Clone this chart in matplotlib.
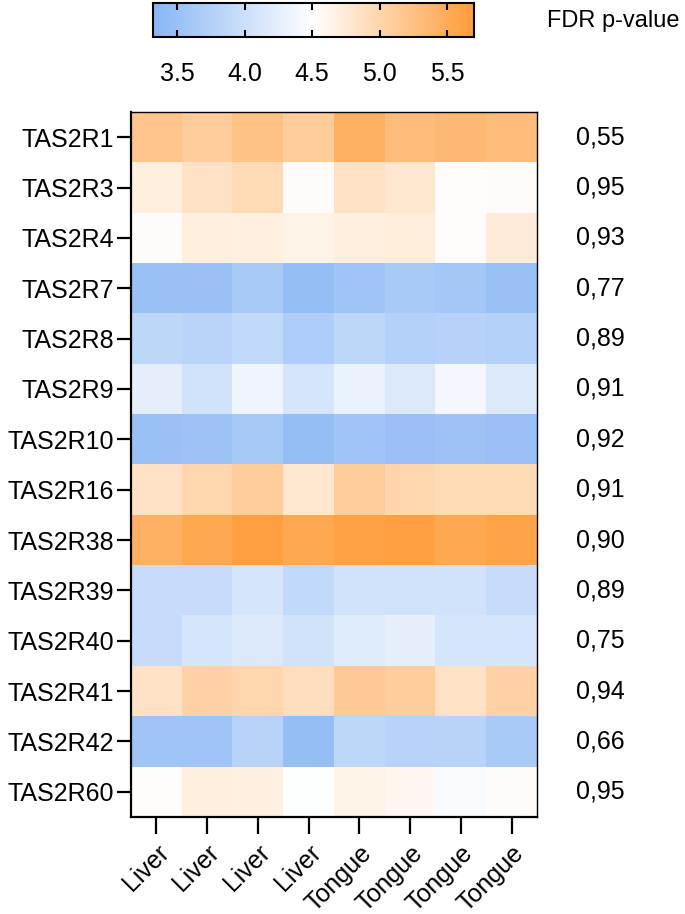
import numpy as np
import matplotlib
matplotlib.use("Agg")
import matplotlib.pyplot as plt
from matplotlib.colors import LinearSegmentedColormap, Normalize

plt.rcParams['font.family'] = ['Liberation Sans', 'DejaVu Sans']

genes = ["TAS2R1", "TAS2R3", "TAS2R4", "TAS2R7", "TAS2R8", "TAS2R9", "TAS2R10",
         "TAS2R16", "TAS2R38", "TAS2R39", "TAS2R40", "TAS2R41", "TAS2R42", "TAS2R60"]
samples = ["Liver", "Liver", "Liver", "Liver", "Tongue", "Tongue", "Tongue", "Tongue"]
fdr = ["0,55", "0,95", "0,93", "0,77", "0,89", "0,91", "0,92",
       "0,91", "0,90", "0,89", "0,75", "0,94", "0,66", "0,95"]

r_TAS2R1 = [5.20, 5.10, 5.25, 5.10, 5.45, 5.30, 5.35, 5.30]
r_TAS2R3 = [4.70, 4.85, 4.95, 4.55, 4.85, 4.80, 4.52, 4.55]
r_TAS2R4 = [4.55, 4.70, 4.68, 4.65, 4.70, 4.72, 4.52, 4.75]
r_TAS2R7 = [3.50, 3.50, 3.65, 3.45, 3.55, 3.65, 3.60, 3.50]
r_TAS2R8 = [3.85, 3.82, 3.90, 3.70, 3.85, 3.75, 3.78, 3.75]
r_TAS2R9 = [4.25, 4.05, 4.35, 4.10, 4.30, 4.15, 4.40, 4.15]
r_TAS2R10 = [3.50, 3.52, 3.62, 3.45, 3.55, 3.48, 3.52, 3.48]
r_TAS2R16 = [4.85, 5.00, 5.10, 4.80, 5.10, 5.00, 4.95, 4.95]
r_TAS2R38 = [5.45, 5.55, 5.65, 5.55, 5.62, 5.65, 5.55, 5.60]
r_TAS2R39 = [3.95, 3.95, 4.10, 3.90, 4.05, 4.05, 4.05, 3.95]
r_TAS2R40 = [3.95, 4.10, 4.15, 4.05, 4.20, 4.25, 4.10, 4.10]
r_TAS2R41 = [4.85, 5.05, 5.00, 4.90, 5.15, 5.10, 4.85, 5.05]
r_TAS2R42 = [3.55, 3.55, 3.80, 3.45, 3.85, 3.80, 3.80, 3.65]
r_TAS2R60 = [4.52, 4.70, 4.68, 4.50, 4.65, 4.60, 4.45, 4.55]

data = np.array([r_TAS2R1, r_TAS2R3, r_TAS2R4, r_TAS2R7, r_TAS2R8, r_TAS2R9, r_TAS2R10,
                 r_TAS2R16, r_TAS2R38, r_TAS2R39, r_TAS2R40, r_TAS2R41, r_TAS2R42, r_TAS2R60])

cbar_ticks = [3.5, 4.0, 4.5, 5.0, 5.5]

W, H = 685, 914
fig = plt.figure(figsize=(W / 100, H / 100), dpi=100)

cmap = LinearSegmentedColormap.from_list("bwo", ["#89B7F5", "#FFFFFF", "#FF9C3A"])
norm = Normalize(vmin=3.32, vmax=5.70)

FS = 18

# heatmap
x0, x1, y0, y1 = 131, 537, 112, 817
ax = fig.add_axes([x0 / W, 1 - y1 / H, (x1 - x0) / W, (y1 - y0) / H])
ax.imshow(data, cmap=cmap, norm=norm, aspect='auto', interpolation='nearest')
ax.set_yticks(range(len(genes)))
ax.set_yticklabels(genes, fontsize=FS)
ax.set_xticks(range(len(samples)))
ax.set_xticklabels(samples, rotation=45, ha='right', rotation_mode='anchor', fontsize=FS)
ax.tick_params(axis='y', length=10, width=1.6, pad=2)
ax.tick_params(axis='x', length=12, width=1.6, pad=5)
for s in ax.spines.values():
    s.set_linewidth(1.6)
for s in ['top', 'right']:
    ax.spines[s].set_linewidth(1.0)

for i, t in enumerate(fdr):
    ax.text(1.155, i, t, transform=ax.get_yaxis_transform(), ha='center', va='center', fontsize=FS)

# colorbar
cx0, cx1, cy0, cy1 = 153, 474, 3, 37
cax = fig.add_axes([cx0 / W, 1 - cy1 / H, (cx1 - cx0) / W, (cy1 - cy0) / H])
grad = np.linspace(norm.vmin, norm.vmax, 400)[None, :]
cax.imshow(grad, cmap=cmap, norm=norm, aspect='auto',
           extent=[norm.vmin, norm.vmax, 0, 1])
cax.set_xlim(norm.vmin, norm.vmax)
cax.set_yticks([])
cax.set_xticks(cbar_ticks)
cax.set_xticklabels([f"{v:.1f}" for v in cbar_ticks], fontsize=FS)
cax.tick_params(axis='x', direction='in', top=True, bottom=True, length=5, width=1.5, pad=18)
for s in cax.spines.values():
    s.set_linewidth(1.5)
fig.text(613 / W, 1 - 21 / H, "FDR p-value", ha='center', va='center', fontsize=17)

fig.savefig("out.png", dpi=100)
